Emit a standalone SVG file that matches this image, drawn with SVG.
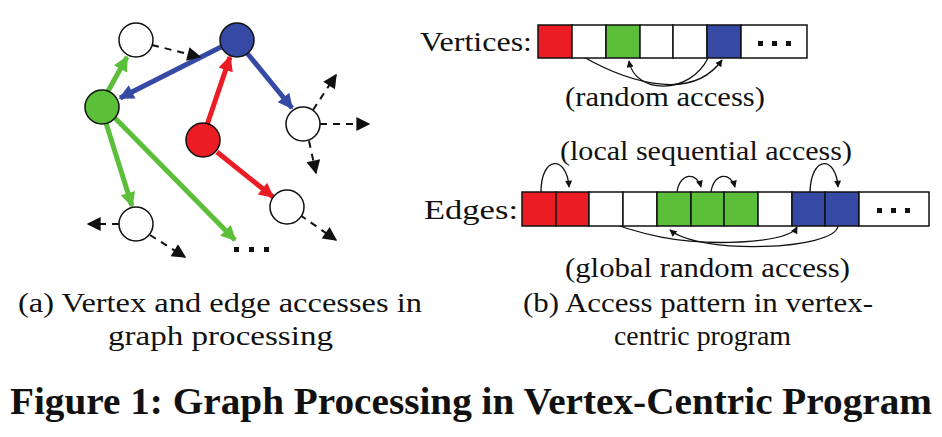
<svg xmlns="http://www.w3.org/2000/svg" width="942" height="437" viewBox="0 0 942 437">
<defs>
<marker id="ab" viewBox="0 0 10 10" refX="9" refY="5" markerWidth="9" markerHeight="7" orient="auto" markerUnits="userSpaceOnUse"><path d="M0,0L10,5L0,10z" fill="#111"/></marker>
<marker id="bk" viewBox="0 0 10 10" refX="9" refY="5" markerWidth="18" markerHeight="14" orient="auto" markerUnits="userSpaceOnUse"><path d="M0,0L10,5L0,10z" fill="#111"/></marker>
<marker id="g" viewBox="0 0 10 10" refX="9" refY="5" markerWidth="18" markerHeight="15" orient="auto" markerUnits="userSpaceOnUse"><path d="M0,0L10,5L0,10z" fill="#5bbf3a"/></marker>
<marker id="r" viewBox="0 0 10 10" refX="9" refY="5" markerWidth="18" markerHeight="15" orient="auto" markerUnits="userSpaceOnUse"><path d="M0,0L10,5L0,10z" fill="#ec1c24"/></marker>
<marker id="b" viewBox="0 0 10 10" refX="9" refY="5" markerWidth="18" markerHeight="15" orient="auto" markerUnits="userSpaceOnUse"><path d="M0,0L10,5L0,10z" fill="#3549a5"/></marker>
</defs>
<style>
.n{stroke:#111;stroke-width:1.5}
.c{stroke:#111;stroke-width:1.5}
.t{font-family:"Liberation Serif",serif;font-size:27px;fill:#111}
.ge{stroke:#5bbf3a;stroke-width:5;fill:none}
.re{stroke:#ec1c24;stroke-width:5;fill:none}
.be{stroke:#3549a5;stroke-width:5;fill:none}
.d{stroke:#111;stroke-width:2;stroke-dasharray:7,6;fill:none}
.a{stroke:#111;stroke-width:1.3;fill:none}
</style>
<g id="connectors">
<line class="ge" x1="107" y1="93" x2="127" y2="57" marker-end="url(#g)"/>
<line class="be" x1="221" y1="47" x2="120" y2="98" marker-end="url(#b)"/>
<line class="be" x1="247" y1="53" x2="292" y2="108" marker-end="url(#b)"/>
<line class="re" x1="207" y1="125" x2="230" y2="57" marker-end="url(#r)"/>
<line class="re" x1="217" y1="152" x2="273" y2="197" marker-end="url(#r)"/>
<line class="ge" x1="106" y1="123" x2="132" y2="206" marker-end="url(#g)"/>
<line class="ge" x1="115" y1="118" x2="235" y2="240" marker-end="url(#g)"/>
<line class="d" x1="152" y1="45" x2="200" y2="57" marker-end="url(#bk)"/>
<line class="d" x1="313" y1="110" x2="336" y2="75" marker-end="url(#bk)"/>
<line class="d" x1="320" y1="124" x2="369" y2="124" marker-end="url(#bk)"/>
<line class="d" x1="309" y1="141" x2="316" y2="173" marker-end="url(#bk)"/>
<line class="d" x1="300" y1="215" x2="336" y2="240" marker-end="url(#bk)"/>
<line class="d" x1="119" y1="224" x2="88" y2="224" marker-end="url(#bk)"/>
<line class="d" x1="150" y1="235" x2="185" y2="257" marker-end="url(#bk)"/>
<path class="a" d="M572,50 C620,80 690,105 722,60" marker-end="url(#ab)"/>
<path class="a" d="M708,58 C690,95 635,95 629,61" marker-end="url(#ab)"/>
<path class="a" d="M541,192 C541,155 567,155 569,187" marker-end="url(#ab)"/>
<path class="a" d="M677,192 C680,172 697,172 701,187" marker-end="url(#ab)"/>
<path class="a" d="M711,192 C714,172 731,172 735,187" marker-end="url(#ab)"/>
<path class="a" d="M810,192 C811,155 836,155 838,187" marker-end="url(#ab)"/>
<path class="a" d="M589,215 C640,235 680,245 740,242 C775,240 793,235 797,227" marker-end="url(#ab)"/>
<path class="a" d="M838,226 C835,250 700,255 670,230" marker-end="url(#ab)"/>
</g>
<g id="node-topleft"><circle class="n" cx="136" cy="40" r="17" fill="#fff"/></g>
<g id="node-blue"><circle class="n" cx="237" cy="40" r="17" fill="#3549a5"/></g>
<g id="node-green"><circle class="n" cx="102" cy="107" r="17" fill="#5bbf3a"/></g>
<g id="node-red"><circle class="n" cx="203" cy="140" r="17" fill="#ec1c24"/></g>
<g id="node-right"><circle class="n" cx="303" cy="124" r="17" fill="#fff"/></g>
<g id="node-bottomright"><circle class="n" cx="287" cy="207" r="17" fill="#fff"/></g>
<g id="node-bottomleft"><circle class="n" cx="136" cy="224" r="17" fill="#fff"/></g>
<g id="dots"><rect x="234" y="247" width="5" height="5" fill="#111"/><rect x="249" y="247" width="5" height="5" fill="#111"/><rect x="264" y="247" width="5" height="5" fill="#111"/></g>
<g id="vertices">
<text class="t" x="420" y="51" textLength="112" lengthAdjust="spacingAndGlyphs">Vertices:</text>
<rect class="c" x="538" y="25" width="34" height="33" fill="#ec1c24"/>
<rect class="c" x="572" y="25" width="34" height="33" fill="#fff"/>
<rect class="c" x="606" y="25" width="34" height="33" fill="#5bbf3a"/>
<rect class="c" x="640" y="25" width="33" height="33" fill="#fff"/>
<rect class="c" x="673" y="25" width="34" height="33" fill="#fff"/>
<rect class="c" x="707" y="25" width="34" height="33" fill="#3549a5"/>
<rect class="c" x="741" y="25" width="66" height="33" fill="#fff"/>
<rect x="758" y="41" width="5" height="5" fill="#111"/><rect x="772" y="41" width="5" height="5" fill="#111"/><rect x="786" y="41" width="5" height="5" fill="#111"/>
<text class="t" x="565" y="106" textLength="200" lengthAdjust="spacingAndGlyphs">(random access)</text>
</g>
<g id="edges">
<text class="t" x="424" y="219" textLength="94" lengthAdjust="spacingAndGlyphs">Edges:</text>
<rect class="c" x="522" y="192" width="34" height="34" fill="#ec1c24"/>
<rect class="c" x="556" y="192" width="33" height="34" fill="#ec1c24"/>
<rect class="c" x="589" y="192" width="34" height="34" fill="#fff"/>
<rect class="c" x="623" y="192" width="34" height="34" fill="#fff"/>
<rect class="c" x="657" y="192" width="34" height="34" fill="#5bbf3a"/>
<rect class="c" x="691" y="192" width="33" height="34" fill="#5bbf3a"/>
<rect class="c" x="724" y="192" width="34" height="34" fill="#5bbf3a"/>
<rect class="c" x="758" y="192" width="34" height="34" fill="#fff"/>
<rect class="c" x="792" y="192" width="33" height="34" fill="#3549a5"/>
<rect class="c" x="825" y="192" width="34" height="34" fill="#3549a5"/>
<rect class="c" x="859" y="192" width="70" height="34" fill="#fff"/>
<rect x="877" y="208" width="5" height="5" fill="#111"/><rect x="891" y="208" width="5" height="5" fill="#111"/><rect x="905" y="208" width="5" height="5" fill="#111"/>
<text class="t" x="560" y="160" textLength="292" lengthAdjust="spacingAndGlyphs">(local sequential access)</text>
<text class="t" x="565" y="277" textLength="285" lengthAdjust="spacingAndGlyphs">(global random access)</text>
</g>
<g id="captions">
<text class="t" x="18" y="312" textLength="404" lengthAdjust="spacingAndGlyphs">(a) Vertex and edge accesses in</text>
<text class="t" x="108" y="345" textLength="225" lengthAdjust="spacingAndGlyphs">graph processing</text>
<text class="t" x="523" y="312" textLength="350" lengthAdjust="spacingAndGlyphs">(b) Access pattern in vertex-</text>
<text class="t" x="614" y="345" textLength="177" lengthAdjust="spacingAndGlyphs">centric program</text>
<text x="10" y="414" textLength="922" lengthAdjust="spacingAndGlyphs" style="font-family:'Liberation Serif',serif;font-size:37px;font-weight:bold;fill:#111">Figure 1: Graph Processing in Vertex-Centric Program</text>
</g>
</svg>
